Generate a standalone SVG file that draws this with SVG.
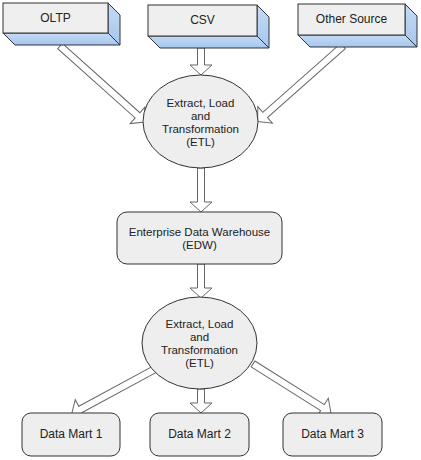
<svg xmlns="http://www.w3.org/2000/svg" width="421" height="460" viewBox="0 0 421 460">
<defs>
<linearGradient id="sideGrad" x1="0" y1="0" x2="0" y2="1">
<stop offset="0" stop-color="#c4dbf5"/>
<stop offset="1" stop-color="#a6c6ee"/>
</linearGradient>
</defs>
<style>
.face{fill:#efefef;stroke:#333;stroke-width:1}
.side{fill:url(#sideGrad);stroke:#333;stroke-width:1}
.node{fill:#eeeeee;stroke:#333;stroke-width:1}
.arrow{fill:#ffffff;stroke:#666;stroke-width:1}
text{font-family:"Liberation Sans",Arial,sans-serif;font-size:12px;fill:#222;text-anchor:middle}
.ml{font-size:11.5px}
</style>
<rect width="421" height="460" fill="#ffffff"/>
<g id="connectors">
<polygon class="arrow" transform="translate(201,48) rotate(90)" points="0,-3.5 17,-3.5 17,-11 27,0 17,11 17,3.5 0,3.5"/>
<polygon class="arrow" transform="translate(60,46) rotate(41.8)" points="0,-3.5 104,-3.5 104,-11 114,0 104,11 104,3.5 0,3.5"/>
<polygon class="arrow" transform="translate(343,46) rotate(138.5)" points="0,-3.5 104,-3.5 104,-11 114,0 104,11 104,3.5 0,3.5"/>
<polygon class="arrow" transform="translate(201,168) rotate(90)" points="0,-3.5 34,-3.5 34,-11 44,0 34,11 34,3.5 0,3.5"/>
<polygon class="arrow" transform="translate(201,264) rotate(90)" points="0,-3.5 24,-3.5 24,-11 34,0 24,11 24,3.5 0,3.5"/>
<polygon class="arrow" transform="translate(201,389) rotate(90)" points="0,-3.5 14,-3.5 14,-11 24,0 14,11 14,3.5 0,3.5"/>
<polygon class="arrow" transform="translate(157,368) rotate(151.6)" points="0,-3.5 87,-3.5 87,-11 97,0 87,11 87,3.5 0,3.5"/>
<polygon class="arrow" transform="translate(253,364) rotate(32.1)" points="0,-3.5 82,-3.5 82,-11 92,0 82,11 82,3.5 0,3.5"/>
</g>
<g id="oltp">
<polygon class="side" points="108,3 120,15 120,45 108,33"/>
<polygon class="side" points="3,33 108,33 120,45 15,45"/>
<rect class="face" x="3" y="3" width="105" height="30"/>
<text x="55.5" y="22">OLTP</text>
</g>
<g id="csv">
<polygon class="side" points="257,5 269,17 269,48 257,36"/>
<polygon class="side" points="148,36 257,36 269,48 160,48"/>
<rect class="face" x="148" y="5" width="109" height="31"/>
<text x="202.5" y="24">CSV</text>
</g>
<g id="other">
<polygon class="side" points="405,4 417,16 417,47 405,35"/>
<polygon class="side" points="298,35 405,35 417,47 310,47"/>
<rect class="face" x="298" y="4" width="107" height="31"/>
<text x="351.5" y="23">Other Source</text>
</g>
<g id="etl1">
<ellipse class="node" cx="200.5" cy="121.5" rx="57.5" ry="46.5"/>
<text class="ml" x="200.5" y="107">Extract, Load</text>
<text class="ml" x="200.5" y="120">and</text>
<text class="ml" x="200.5" y="133">Transformation</text>
<text class="ml" x="200.5" y="146">(ETL)</text>
</g>
<g id="edw">
<rect class="node" x="117" y="212" width="165" height="52" rx="10" ry="10"/>
<text class="ml" x="199.5" y="236">Enterprise Data Warehouse</text>
<text class="ml" x="199.5" y="249">(EDW)</text>
</g>
<g id="etl2">
<ellipse class="node" cx="199.5" cy="343" rx="57.5" ry="46"/>
<text class="ml" x="199.5" y="328">Extract, Load</text>
<text class="ml" x="199.5" y="341">and</text>
<text class="ml" x="199.5" y="354">Transformation</text>
<text class="ml" x="199.5" y="367">(ETL)</text>
</g>
<g id="dm1">
<rect class="node" x="22" y="413" width="98" height="43" rx="9" ry="9"/>
<text x="71" y="438">Data Mart 1</text>
</g>
<g id="dm2">
<rect class="node" x="150" y="413" width="99" height="43" rx="9" ry="9"/>
<text x="199.5" y="438">Data Mart 2</text>
</g>
<g id="dm3">
<rect class="node" x="283" y="413" width="99" height="43" rx="9" ry="9"/>
<text x="332.5" y="438">Data Mart 3</text>
</g>
</svg>
